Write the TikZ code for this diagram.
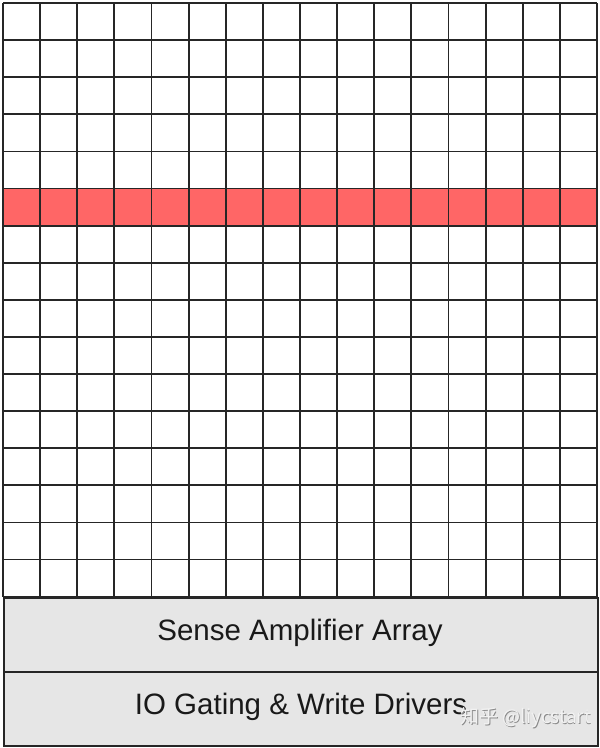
\documentclass[tikz,border=0pt]{standalone}
\usepackage{fontspec}
\setmainfont{Liberation Sans}
\newfontfamily\cjk{Noto Sans CJK SC}
\definecolor{rowred}{HTML}{FF6666}
\definecolor{boxgray}{HTML}{E6E6E6}
\definecolor{wmark}{HTML}{F2F2F2}
\begin{document}
\begin{tikzpicture}[x=1pt,y=-1pt,
  gridline/.style={draw=black!85,line width=1.8pt},
  panel/.style={draw=black!85,line width=2.2pt,fill=boxgray},
  paneltext/.style={font=\fontsize{29.5}{32}\selectfont,text=black!90}]
\useasboundingbox (0,0) rectangle (600,748);
% highlighted row
\fill[rowred] (3,188.1) rectangle (597,225.2);
% grid
\foreach \i in {0,...,16}{
  \draw[gridline] ({3+\i*37.125},3) -- ({3+\i*37.125},596.6);
  \draw[gridline] (3,{3+\i*37.1}) -- (597,{3+\i*37.1});
}
% panels
\node[panel,minimum width=594pt,minimum height=74pt,inner sep=0pt,anchor=north west] (sa) at (3,596.6) {};
\node[panel,minimum width=594pt,minimum height=74pt,inner sep=0pt,anchor=north west] (io) at (3,670.6) {};
\node[paneltext] (satext) at (300,633) {Sense Amplifier Array};
\node[paneltext] (iotext) at (301,707) {IO Gating \& Write Drivers};
% watermark
\node[font=\cjk\fontsize{19}{21}\selectfont,text=black!45,anchor=west] (wm0) at (457.8,718.8) {知乎 @liycstart};
\node[font=\cjk\fontsize{19}{21}\selectfont,text=wmark,anchor=west] (wm) at (457,718) {知乎 @liycstart};
\end{tikzpicture}
\end{document}
